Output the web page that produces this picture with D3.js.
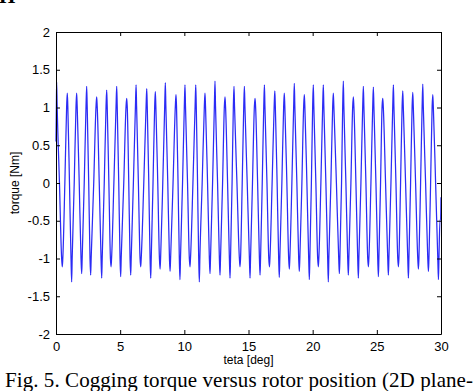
<!DOCTYPE html>
<html><head><meta charset="utf-8">
<script src="https://cdn.jsdelivr.net/npm/d3@7"></script>
<style>
html,body{margin:0;padding:0;background:#fff;overflow:hidden;}
svg{display:block;}
</style></head>
<body>
<script>
// ---- data ----
const xTicks = [0, 5, 10, 15, 20, 25, 30];
const yTicks = [-2, -1.5, -1, -0.5, 0, 0.5, 1, 1.5, 2];
const xLabel = "teta [deg]";
const yLabel = "torque [Nm]";
const caption = "Fig. 5. Cogging torque versus rotor position (2D plane-";

// rotor position [deg]
const theta = [
  0.00,
  0.03, 0.05, 0.09, 0.27, 0.44, 0.49, 0.53, 0.69,
  0.83, 0.88, 0.92, 1.05, 1.17, 1.22, 1.26, 1.42,
  1.56, 1.61, 1.65, 1.81, 1.95, 2.00, 2.04, 2.20,
  2.34, 2.39, 2.43, 2.55, 2.65, 2.70, 2.74, 2.94,
  3.12, 3.17, 3.21, 3.37, 3.51, 3.56, 3.60, 3.76,
  3.90, 3.95, 3.99, 4.12, 4.24, 4.29, 4.33, 4.51,
  4.68, 4.73, 4.77, 4.89, 4.99, 5.04, 5.08, 5.28,
  5.46, 5.51, 5.55, 5.67, 5.77, 5.82, 5.86, 6.03,
  6.19, 6.24, 6.28, 6.42, 6.55, 6.60, 6.64, 6.84,
  7.02, 7.07, 7.11, 7.23, 7.33, 7.38, 7.42, 7.56,
  7.69, 7.74, 7.78, 7.93, 8.06, 8.11, 8.15, 8.32,
  8.47, 8.52, 8.56, 8.71, 8.84, 8.89, 8.93, 9.12,
  9.30, 9.35, 9.39, 9.51, 9.61, 9.66, 9.70, 9.86,
  10.00, 10.05, 10.09, 10.25, 10.39, 10.44, 10.48, 10.67,
  10.84, 10.89, 10.93, 11.03, 11.12, 11.17, 11.21, 11.39,
  11.56, 11.61, 11.65, 11.81, 11.95, 12.00, 12.04, 12.20,
  12.34, 12.39, 12.43, 12.59, 12.73, 12.78, 12.82, 12.98,
  13.12, 13.17, 13.21, 13.37, 13.51, 13.56, 13.60, 13.72,
  13.82, 13.87, 13.91, 14.10, 14.29, 14.34, 14.38, 14.51,
  14.63, 14.68, 14.72, 14.90, 15.07, 15.12, 15.16, 15.31,
  15.46, 15.51, 15.55, 15.71, 15.85, 15.90, 15.94, 16.07,
  16.19, 16.24, 16.28, 16.44, 16.58, 16.63, 16.67, 16.84,
  17.00, 17.05, 17.09, 17.23, 17.35, 17.40, 17.44, 17.60,
  17.74, 17.79, 17.83, 17.99, 18.13, 18.18, 18.22, 18.38,
  18.52, 18.57, 18.61, 18.77, 18.91, 18.96, 19.00, 19.16,
  19.30, 19.35, 19.39, 19.55, 19.69, 19.74, 19.78, 19.90,
  20.00, 20.05, 20.09, 20.25, 20.39, 20.44, 20.48, 20.64,
  20.78, 20.83, 20.87, 21.03, 21.17, 21.22, 21.26, 21.42,
  21.56, 21.61, 21.65, 21.85, 22.03, 22.08, 22.12, 22.25,
  22.34, 22.39, 22.43, 22.59, 22.73, 22.78, 22.82, 22.98,
  23.12, 23.17, 23.21, 23.37, 23.51, 23.56, 23.60, 23.76,
  23.90, 23.95, 23.99, 24.15, 24.29, 24.34, 24.38, 24.54,
  24.68, 24.73, 24.77, 24.93, 25.07, 25.12, 25.16, 25.29,
  25.41, 25.46, 25.50, 25.68, 25.85, 25.90, 25.94, 26.10,
  26.24, 26.29, 26.33, 26.49, 26.63, 26.68, 26.72, 26.85,
  26.97, 27.02, 27.06, 27.24, 27.41, 27.46, 27.50, 27.63,
  27.75, 27.80, 27.84, 28.02, 28.19, 28.24, 28.28, 28.41,
  28.53, 28.58, 28.62, 28.80, 28.97, 29.02, 29.06, 29.19,
  29.31, 29.36, 29.40, 29.58, 29.75, 29.80, 29.84, 29.92, 29.97, 30.00
];

// cogging torque [Nm]
const torque = [
  0.55,
  1.02, 1.34, 1.02, 0.00, -1.00, -1.11, -1.00, 0.00,
  1.02, 1.19, 1.02, 0.00, -1.00, -1.31, -1.00, 0.00,
  1.02, 1.19, 1.02, 0.00, -1.00, -1.20, -1.00, 0.00,
  1.02, 1.28, 1.02, 0.00, -1.00, -1.22, -1.00, 0.00,
  1.02, 1.14, 1.02, 0.00, -1.00, -1.26, -1.00, 0.00,
  1.02, 1.23, 1.02, 0.00, -1.00, -1.11, -1.00, 0.00,
  1.02, 1.28, 1.02, 0.00, -1.00, -1.24, -1.00, 0.00,
  1.02, 1.12, 1.02, 0.00, -1.00, -1.22, -1.00, 0.00,
  1.02, 1.30, 1.02, 0.00, -1.00, -1.11, -1.00, 0.00,
  1.02, 1.25, 1.02, 0.00, -1.00, -1.26, -1.00, 0.00,
  1.02, 1.21, 1.02, 0.00, -1.00, -1.14, -1.00, 0.00,
  1.02, 1.33, 1.02, 0.00, -1.00, -1.17, -1.00, 0.00,
  1.02, 1.17, 1.02, 0.00, -1.00, -1.28, -1.00, 0.00,
  1.02, 1.30, 1.02, 0.00, -1.00, -1.11, -1.00, 0.00,
  1.02, 1.30, 1.02, 0.00, -1.00, -1.31, -1.00, 0.00,
  1.02, 1.19, 1.02, 0.00, -1.00, -1.20, -1.00, 0.00,
  1.02, 1.35, 1.02, 0.00, -1.00, -1.22, -1.00, 0.00,
  1.02, 1.14, 1.02, 0.00, -1.00, -1.26, -1.00, 0.00,
  1.02, 1.28, 1.02, 0.00, -1.00, -1.11, -1.00, 0.00,
  1.02, 1.28, 1.02, 0.00, -1.00, -1.26, -1.00, 0.00,
  1.02, 1.12, 1.02, 0.00, -1.00, -1.22, -1.00, 0.00,
  1.02, 1.30, 1.02, 0.00, -1.00, -1.11, -1.00, 0.00,
  1.02, 1.22, 1.02, 0.00, -1.00, -1.25, -1.00, 0.00,
  1.02, 1.19, 1.02, 0.00, -1.00, -1.14, -1.00, 0.00,
  1.02, 1.32, 1.02, 0.00, -1.00, -1.17, -1.00, 0.00,
  1.02, 1.17, 1.02, 0.00, -1.00, -1.28, -1.00, 0.00,
  1.02, 1.30, 1.02, 0.00, -1.00, -1.11, -1.00, 0.00,
  1.02, 1.30, 1.02, 0.00, -1.00, -1.31, -1.00, 0.00,
  1.02, 1.19, 1.02, 0.00, -1.00, -1.20, -1.00, 0.00,
  1.02, 1.35, 1.02, 0.00, -1.00, -1.22, -1.00, 0.00,
  1.02, 1.14, 1.02, 0.00, -1.00, -1.26, -1.00, 0.00,
  1.02, 1.28, 1.02, 0.00, -1.00, -1.11, -1.00, 0.00,
  1.02, 1.27, 1.02, 0.00, -1.00, -1.24, -1.00, 0.00,
  1.02, 1.12, 1.02, 0.00, -1.00, -1.22, -1.00, 0.00,
  1.02, 1.30, 1.02, 0.00, -1.00, -1.11, -1.00, 0.00,
  1.02, 1.22, 1.02, 0.00, -1.00, -1.26, -1.00, 0.00,
  1.02, 1.20, 1.02, 0.00, -1.00, -1.14, -1.00, 0.00,
  1.02, 1.31, 1.02, 0.00, -1.00, -1.17, -1.00, 0.00,
  1.02, 1.17, 1.02, 0.00, -1.00, -1.28, -1.00, -0.49, -0.49, -0.19
];

// ---- layout ----
const W = 474, H = 391;
const margin = {left: 56, right: 33, top: 32, bottom: 57};
const pw = W - margin.left - margin.right;
const ph = H - margin.top - margin.bottom;

const svg = d3.select("body").append("svg").attr("width", W).attr("height", H);

const x = d3.scaleLinear().domain([0, 30]).range([0, pw]);
const y = d3.scaleLinear().domain([-2, 2]).range([ph, 0]);

const g = svg.append("g").attr("transform", `translate(${margin.left},${margin.top})`);

const series = theta.map((t, i) => [t, torque[i]]);

g.append("path")
  .datum(series)
  .attr("fill", "none")
  .attr("stroke", "#2b2bf5")
  .attr("stroke-width", 1.25)
  .attr("stroke-linejoin", "round")
  .attr("d", d3.line().curve(d3.curveMonotoneX).x(d => x(d[0])).y(d => y(d[1])));

const fmt = d => String(d);
const font = "'Liberation Sans', Arial, Helvetica, sans-serif";

const axB = g.append("g").attr("transform", `translate(0,${ph})`)
  .call(d3.axisBottom(x).tickValues(xTicks).tickFormat(fmt).tickSizeInner(-4).tickSizeOuter(0).tickPadding(8));
const axT = g.append("g")
  .call(d3.axisTop(x).tickValues(xTicks).tickFormat("").tickSizeInner(-4).tickSizeOuter(0));
const axL = g.append("g")
  .call(d3.axisLeft(y).tickValues(yTicks).tickFormat(fmt).tickSizeInner(-4).tickSizeOuter(0).tickPadding(6));
const axR = g.append("g").attr("transform", `translate(${pw},0)`)
  .call(d3.axisRight(y).tickValues(yTicks).tickFormat("").tickSizeInner(-4).tickSizeOuter(0));

[axB, axT, axL, axR].forEach(a => {
  a.selectAll("path.domain").attr("stroke", "#000").attr("stroke-width", 1);
  a.selectAll(".tick line").attr("stroke", "#000");
  a.selectAll("text").attr("font-family", font).attr("font-size", 13).attr("fill", "#000");
});

svg.append("text")
  .attr("x", margin.left + pw / 2).attr("y", 364)
  .attr("text-anchor", "middle")
  .attr("font-family", font).attr("font-size", 12)
  .text(xLabel);

svg.append("text")
  .attr("transform", `translate(19,${margin.top + ph / 2}) rotate(-90)`)
  .attr("text-anchor", "middle")
  .attr("font-family", font).attr("font-size", 12)
  .text(yLabel);

svg.append("text")
  .attr("x", 5).attr("y", 387)
  .attr("font-family", "'Liberation Serif', 'Times New Roman', serif")
  .attr("font-size", 21)
  .attr("textLength", 468)
  .attr("lengthAdjust", "spacing")
  .text(caption);

svg.append("text")
  .attr("x", -1).attr("y", 3)
  .attr("font-family", "'Liberation Serif', 'Times New Roman', serif")
  .attr("font-weight", "bold")
  .attr("font-size", 21)
  .text("H");
</script>
</body></html>
